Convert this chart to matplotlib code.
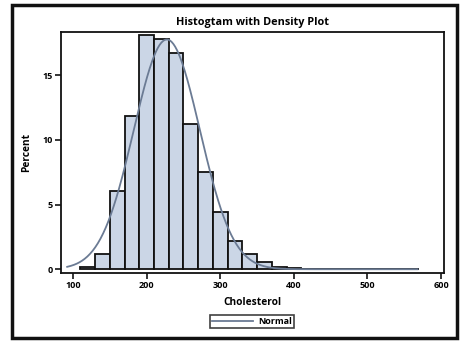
import numpy as np
import matplotlib
matplotlib.use("Agg")
import matplotlib.pyplot as plt
from matplotlib.patches import Rectangle

# Data (bin edges of width 20, percent per bin)
bin_edges = [110, 130, 150, 170, 190, 210, 230, 250, 270, 290, 310, 330, 350,
             370, 390, 410, 430, 450, 470, 490, 510, 530, 550, 570]
percents = [0.2, 1.16, 6.08, 11.83, 18.14, 17.81, 16.75, 11.21, 7.55, 4.43, 2.17,
            1.18, 0.56, 0.18, 0.06, 0.04, 0.02, 0.0, 0.02, 0.04, 0.0, 0.0, 0.02]
# Fitted normal curve parameters
normal_mu = 227.4
normal_sigma = 44.9
curve_range = (92, 568)
bin_width = 20

title = "Histogtam with Density Plot"
xlabel = "Cholesterol"
ylabel = "Percent"
xticks = [100, 200, 300, 400, 500, 600]
yticks = [0, 5, 10, 15]

plt.rcParams['font.family'] = ['Open Sans', 'DejaVu Sans']

fig = plt.figure(figsize=(4.74, 3.48), dpi=100)
ax = fig.add_axes([0.1287, 0.2155, 0.808, 0.6925])

lefts = np.array(bin_edges[:-1])
ax.bar(lefts, percents, width=bin_width, align='edge', color='#cbd6e6',
       edgecolor='#111111', linewidth=1.3, zorder=2)

xs = np.linspace(curve_range[0], curve_range[1], 400)
ys = 100 * bin_width / (normal_sigma * np.sqrt(2 * np.pi)) * np.exp(-0.5 * ((xs - normal_mu) / normal_sigma) ** 2)
line, = ax.plot(xs, ys, color='#6b7b94', linewidth=1.3, zorder=3, label='Normal')

ax.set_xlim(83.6, 604)
ax.set_ylim(-0.29, 18.35)
ax.set_xticks(xticks)
ax.set_yticks(yticks)
ax.tick_params(axis='both', direction='out', length=4, width=1.1, labelsize=6.5, pad=2)
for lab in ax.get_xticklabels() + ax.get_yticklabels():
    lab.set_fontweight('bold')
for s in ax.spines.values():
    s.set_linewidth(1.3)
    s.set_color('#111111')

ax.set_title(title, fontsize=7.8, fontweight='bold', pad=5)
ax.set_xlabel(xlabel, fontsize=7.3, fontweight='bold', labelpad=5)
ax.set_ylabel(ylabel, fontsize=7.3, fontweight='bold', labelpad=7)

leg = fig.legend(handles=[line], labels=['Normal'], loc='center',
                 bbox_to_anchor=(252 / 474, 1 - 321.5 / 348), frameon=True,
                 fancybox=False, edgecolor='#111111', fontsize=6.5,
                 handlelength=4.5, borderpad=0.2, handletextpad=0.6)
leg.get_frame().set_linewidth(1.2)
for t in leg.get_texts():
    t.set_fontweight('bold')

fig.patches.append(Rectangle((12 / 474, 1 - 338 / 348), 445 / 474, 333 / 348,
                             transform=fig.transFigure, fill=False,
                             edgecolor='#111111', linewidth=2.5))

fig.savefig('out.png', dpi=100)
